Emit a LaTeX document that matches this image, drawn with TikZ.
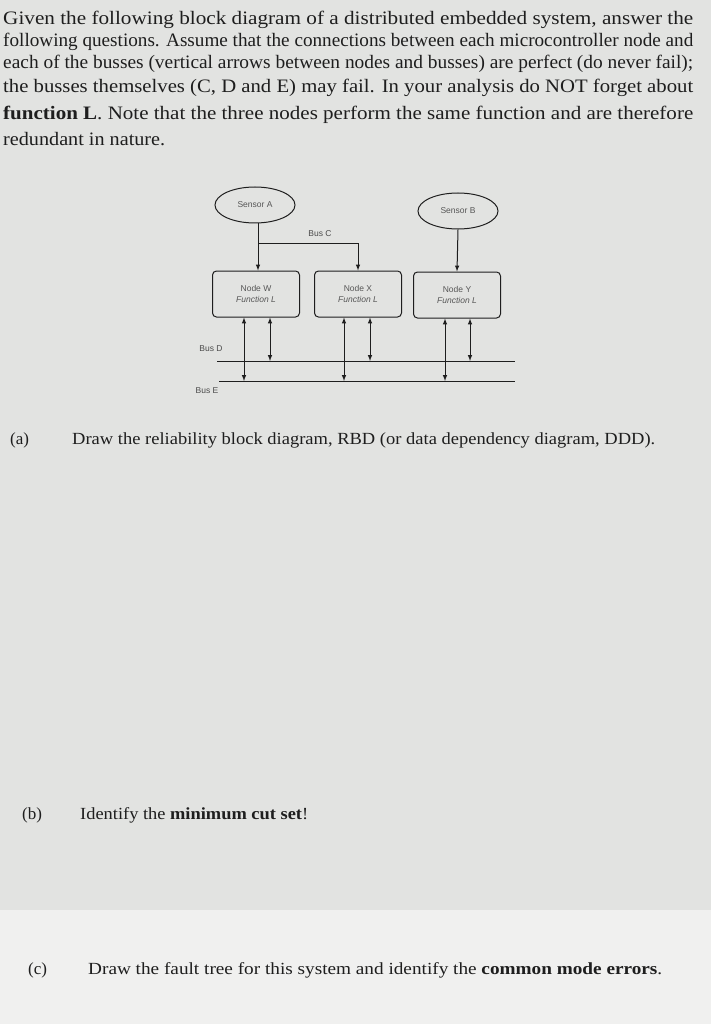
\documentclass[tikz,border=0pt]{standalone}
\usepackage{fontspec}
\usepackage{graphicx}
\setmainfont{Liberation Serif}
\newfontfamily\diag{Liberation Sans}
\definecolor{bgA}{RGB}{226,227,225}
\definecolor{bgB}{RGB}{240,240,239}
\definecolor{ink}{RGB}{30,30,30}
\newcommand{\fitw}[2]{\resizebox{#1}{\height}{#2}}
\begin{document}
\begin{tikzpicture}[x=1pt,y=-1pt,
  para/.style={anchor=west,inner sep=0pt,text=ink,font=\fontsize{19}{21}\selectfont},
  qtext/.style={anchor=west,inner sep=0pt,text=ink,font=\fontsize{17}{19}\selectfont},
  sensor/.style={draw=ink,line width=1pt,ellipse,minimum width=80pt,minimum height=36pt,font=\diag\fontsize{8.5}{9}\selectfont,text=ink!75},
  nodebox/.style={draw=ink,line width=1pt,rounded corners=4pt,minimum width=87pt,minimum height=46pt,align=center,font=\diag\fontsize{8.5}{11}\selectfont,text=ink!75},
  lbl/.style={font=\diag\fontsize{8.5}{9}\selectfont,text=ink!80,inner sep=0pt},
  conn/.style={draw=ink,line width=1pt,-latex},
  dconn/.style={draw=ink,line width=1pt,latex-latex},
  bus/.style={draw=ink,line width=1pt}]
\usetikzlibrary{shapes.geometric}
\fill[bgA] (0,0) rectangle (711,910);
\fill[bgB] (0,910) rectangle (711,1024);
\useasboundingbox (0,0) rectangle (711,1024);
\node[para] (l1) at (3,20) {\fitw{690pt}{Given the following block diagram of a distributed embedded system, answer the}};
\node[para] (l2) at (3,42) {\fitw{690pt}{following questions. Assume that the connections between each microcontroller node and}};
\node[para] (l3) at (3,64) {\fitw{690pt}{each of the busses (vertical arrows between nodes and busses) are perfect (do never fail);}};
\node[para] (l4) at (3,88) {\fitw{690pt}{the busses themselves (C, D and E) may fail. In your analysis do NOT forget about}};
\node[para] (l5) at (3,115) {\fitw{690pt}{\textbf{function L}. Note that the three nodes perform the same function and are therefore}};
\node[para] (l6) at (3,139) {\fitw{162pt}{redundant in nature.}};

\node[sensor] (sa) at (255,205) {Sensor A};
\node[sensor] (sb) at (458,211) {Sensor B};
\node[nodebox] (nw) at (256,294) {Node W\\\textit{Function L}};
\node[nodebox] (nx) at (358,294) {Node X\\\textit{Function L}};
\node[nodebox] (ny) at (457,295) {Node Y\\\textit{Function L}};
\coordinate (cj) at (258,243);
\coordinate (ce) at (358,243);
\draw[bus] (sa.south -| cj) -- (cj);
\draw[conn] (cj) -- (cj |- nw.north);
\draw[conn] (cj) -- (ce) -- (nx.north);
\draw[conn] (sb.south) -- (ny.north);
\node[lbl] (busc) at (320,234) {Bus C};
\coordinate (d1) at (217,361); \coordinate (d2) at (515,361);
\coordinate (e1) at (219,381); \coordinate (e2) at (515,381);
\draw[bus] (d1) -- (d2);
\draw[bus] (e1) -- (e2);
\node[lbl] (busd) at (211,349) {Bus D};
\node[lbl] (buse) at (207,391) {Bus E};
\foreach \n/\a/\b in {nw/244/270, nx/344/370, ny/445/470}{
  \draw[dconn] (\a,0 |- \n.south) -- (\a,381);
  \draw[dconn] (\b,0 |- \n.south) -- (\b,361);
}
\node[qtext] (qa) at (10,440) {(a)};
\node[qtext] (ta) at (72,440) {\fitw{583pt}{Draw the reliability block diagram, RBD (or data dependency diagram, DDD).}};
\node[qtext] (qb) at (22,815) {(b)};
\node[qtext] (tb) at (80,815) {\fitw{228pt}{Identify the \textbf{minimum cut set}!}};
\node[qtext] (qc) at (28,970) {(c)};
\node[qtext] (tc) at (88,970) {\fitw{574pt}{Draw the fault tree for this system and identify the \textbf{common mode errors}.}};
\end{tikzpicture}
\end{document}
